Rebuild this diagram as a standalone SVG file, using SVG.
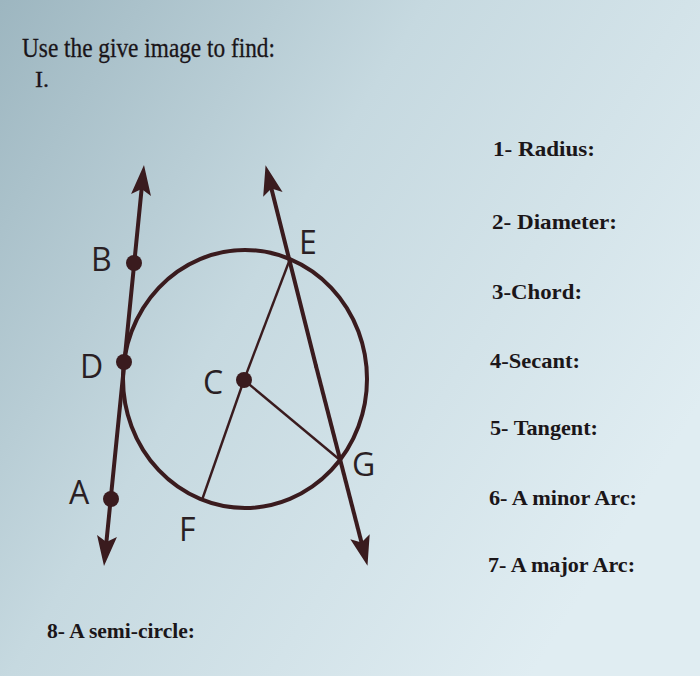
<svg xmlns="http://www.w3.org/2000/svg" width="700" height="676" viewBox="0 0 700 676">
  <defs>
    <linearGradient id="bg" x1="0" y1="0" x2="1" y2="0.6">
      <stop offset="0" stop-color="#9db6c0"/>
      <stop offset="0.45" stop-color="#c6d9e0"/>
      <stop offset="1" stop-color="#e0edf2"/>
    </linearGradient>
    <marker id="arrow" viewBox="0 0 20 20" refX="18" refY="10" markerWidth="20" markerHeight="20" markerUnits="userSpaceOnUse" orient="auto" overflow="visible">
      <path d="M28,10 L-2,0 L4,10 L-2,20 Z" fill="#3a1b1e"/>
    </marker>
    <style>
      .ln { stroke: #3a1b1e; stroke-width: 4; fill: none; stroke-linecap: round; }
      .rad { stroke: #3a1b1e; stroke-width: 2.4; fill: none; }
      .dot { fill: #3a1b1e; }
      .lbl { font-family: "Open Sans", "Noto Sans", sans-serif; font-size: 32px; fill: #2a1f24; }
      .hdr { font-family: "Liberation Serif", "Times New Roman", serif; font-size: 27px; fill: #1a1519; stroke: #1a1519; stroke-width: 0.3; }
      .q { font-family: "Liberation Serif", "Times New Roman", serif; font-size: 21px; font-weight: bold; fill: #1b1619; }
    </style>
  </defs>
  <rect width="700" height="676" fill="url(#bg)"/>

  <g id="header">
    <text class="hdr" x="22" y="57" textLength="253" lengthAdjust="spacingAndGlyphs">Use the give image to find:</text>
    <text class="hdr" x="35" y="87" style="font-size:24px">I.</text>
  </g>

  <g id="circle">
    <ellipse cx="245" cy="379" rx="122" ry="129" class="ln"/>
  </g>

  <g id="connectors">
    <line id="tangent" class="ln" x1="123" y1="376" x2="143" y2="175" marker-end="url(#arrow)"/>
    <line id="tangent-down" class="ln" x1="123" y1="376" x2="105" y2="556" marker-end="url(#arrow)"/>
    <line id="secant-up" class="ln" x1="316" y1="366" x2="268" y2="175" marker-end="url(#arrow)"/>
    <line id="secant-down" class="ln" x1="316" y1="366" x2="365" y2="556" marker-end="url(#arrow)"/>
    <line id="CE" class="rad" x1="244" y1="380" x2="290" y2="259"/>
    <line id="CF" class="rad" x1="244" y1="380" x2="202" y2="500"/>
    <line id="CG" class="rad" x1="244" y1="380" x2="340" y2="460"/>
  </g>

  <g id="B"><circle class="dot" cx="134" cy="263" r="8"/><text class="lbl" x="91" y="271">B</text></g>
  <g id="D"><circle class="dot" cx="124" cy="362" r="8"/><text class="lbl" x="80" y="378">D</text></g>
  <g id="A"><circle class="dot" cx="111" cy="499" r="8"/><text class="lbl" x="69" y="504">A</text></g>
  <g id="C"><circle class="dot" cx="244" cy="380" r="8"/><text class="lbl" x="203" y="394">C</text></g>
  <g id="E"><text class="lbl" x="299" y="254">E</text></g>
  <g id="G"><text class="lbl" x="352" y="476">G</text></g>
  <g id="F"><text class="lbl" x="179" y="541">F</text></g>

  <g id="questions">
    <text class="q" x="493" y="156" textLength="102" lengthAdjust="spacingAndGlyphs">1- Radius:</text>
    <text class="q" x="492" y="229" textLength="125" lengthAdjust="spacingAndGlyphs">2- Diameter:</text>
    <text class="q" x="492" y="299" textLength="90" lengthAdjust="spacingAndGlyphs">3-Chord:</text>
    <text class="q" x="490" y="368" textLength="90" lengthAdjust="spacingAndGlyphs">4-Secant:</text>
    <text class="q" x="490" y="435" textLength="108" lengthAdjust="spacingAndGlyphs">5- Tangent:</text>
    <text class="q" x="489" y="505" textLength="148" lengthAdjust="spacingAndGlyphs">6- A minor Arc:</text>
    <text class="q" x="488" y="572" textLength="147" lengthAdjust="spacingAndGlyphs">7- A major Arc:</text>
    <text class="q" x="47" y="638" textLength="148" lengthAdjust="spacingAndGlyphs">8- A semi-circle:</text>
  </g>
</svg>
